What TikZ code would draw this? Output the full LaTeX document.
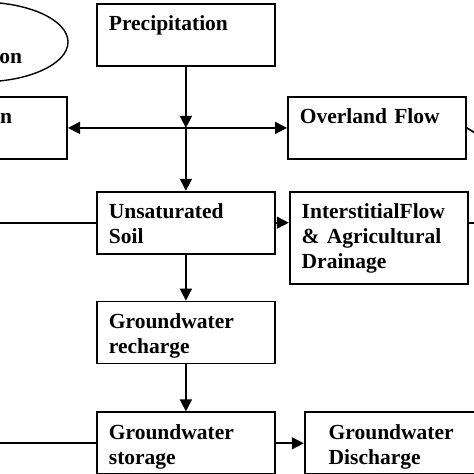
\documentclass[tikz,border=0pt]{standalone}
\usepackage{fontspec}
\setmainfont{Liberation Serif}
\usetikzlibrary{shapes.geometric,arrows.meta,positioning,calc}

\begin{document}
\begin{tikzpicture}[
    x=1pt, y=-1pt,
    box/.style={rectangle, draw, line width=1.8pt, inner xsep=12pt, inner ysep=0pt, text width=154pt, align=left, text height=27pt, text depth=35pt, font=\fontsize{21.5}{25}\selectfont\bfseries},
    tallbox/.style={box, text depth=65pt},
    oval/.style={ellipse, draw, line width=1.4pt, inner sep=0pt, minimum width=176pt, minimum height=80pt, font=\fontsize{21.5}{25}\selectfont\bfseries},
    arrow/.style={-{Triangle[length=12pt,width=12pt]}, line width=1.7pt},
    line/.style={line width=1.7pt}
]
\useasboundingbox (0,0) rectangle (474,474);

% Nodes
\node[oval, text width=84pt, align=right, text height=48pt, text depth=6pt] (evap) at (-20,42) {on};
\node[box, anchor=north west] (precip) at (96,3) {Precipitation};
\node[box, anchor=north east, text width=55pt] (interc) at (68,96) {n};
\node[box, anchor=north west] (overland) at (287,96) {Overland Flow};
\node[box, below=124pt of precip] (unsat) {Unsaturated\\Soil};
\node[tallbox, right=13pt of unsat.north east, anchor=north west] (interflow) {InterstitialFlow\\\& Agricultural\\Drainage};
\node[box, below=46pt of unsat] (recharge) {Groundwater\\recharge};
\node[box, below=47pt of recharge] (storage) {Groundwater\\storage};
\node[box, right=28pt of storage, inner xsep=24pt] (discharge) {Groundwater\\Discharge};

% Free ends
\coordinate (split) at (precip.south |- overland.west);
\coordinate (unsatout) at (-10,0 |- unsat.west);
\coordinate (storeout) at (-10,0 |- storage.west);
\coordinate (interout) at (490,0 |- unsat.east);
\coordinate (overout) at (490,142);

% Arrows
\draw[arrow] (precip) -- (split);
\draw[arrow] (split) -- (unsat);
\draw[arrow] (split) -- (interc.east);
\draw[arrow] (split) -- (overland.west);
\draw[line] (overland.east) -- (overout);
\draw[line] (unsat.west) -- (unsatout);
\draw[arrow] (unsat.east) -- (interflow.west |- unsat.east);
\draw[line] (interflow.east |- unsat.east) -- (interout);
\draw[arrow] (unsat) -- (recharge);
\draw[arrow] (recharge) -- (storage);
\draw[line] (storage.west) -- (storeout);
\draw[arrow] (storage) -- (discharge);

\end{tikzpicture}
\end{document}
